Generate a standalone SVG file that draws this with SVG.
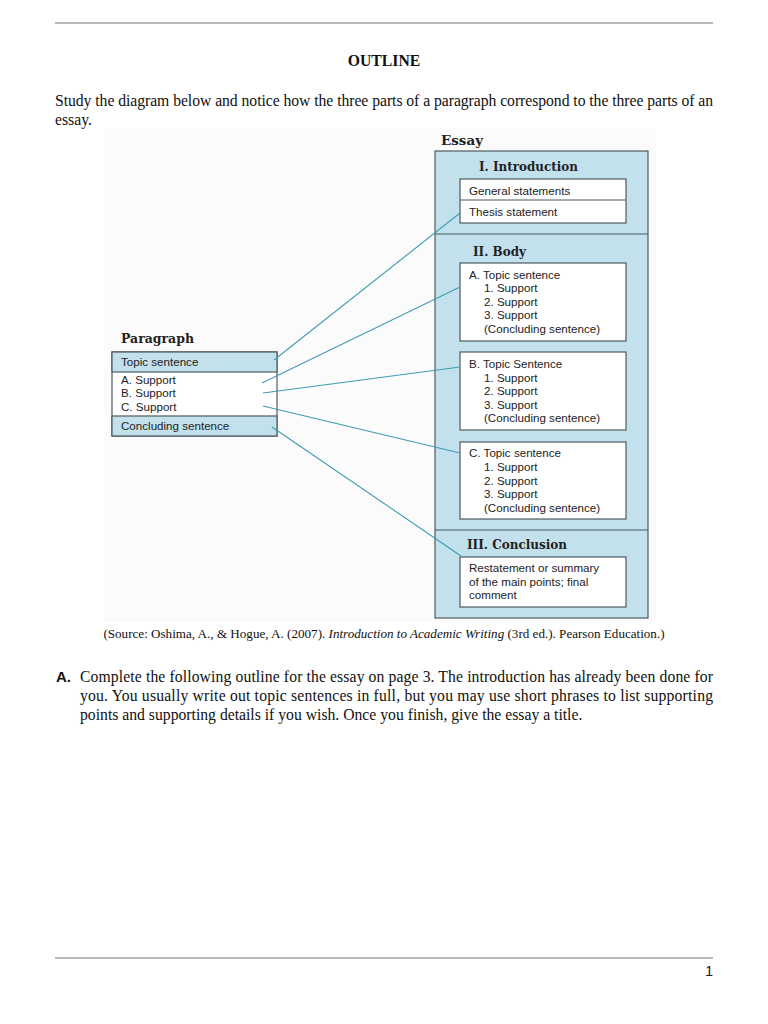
<svg xmlns="http://www.w3.org/2000/svg" width="768" height="1024" viewBox="0 0 768 1024">
<style>
.page{font-family:"Liberation Serif","Times New Roman",serif;font-size:15.7px;fill:#111}
.cap{font-family:"Liberation Serif","Times New Roman",serif;font-size:13.1px;fill:#111}
.head{font-family:"DejaVu Serif",serif;font-weight:bold;fill:#222}
.lbl{font-family:"Liberation Sans",Arial,sans-serif;font-size:11.6px;fill:#222}
.blue{fill:#c2e1ec;stroke:#4d5a60;stroke-width:1.2}
.box{fill:#ffffff;stroke:#4d5a60;stroke-width:1.2}
.div{stroke:#4d5a60;stroke-width:1.1;fill:none}
.conn line{stroke:#3f9cb2;stroke-width:1.1}
.rule{stroke:#a0a0a0;stroke-width:1.6}
</style>
<rect width="768" height="1024" fill="#ffffff"/>
<line class="rule" x1="55" y1="23" x2="713" y2="23"/>
<line class="rule" x1="55" y1="958" x2="713" y2="958"/>
<text class="page" x="384" y="66" text-anchor="middle" font-weight="bold">OUTLINE</text>
<text class="page" x="55" y="106" textLength="658" lengthAdjust="spacing">Study the diagram below and notice how the three parts of a paragraph correspond to the three parts of an</text>
<text class="page" x="55" y="125">essay.</text>

<rect x="104" y="128" width="552" height="494" fill="#fbfbfb"/>

<g id="essay">
<text class="head" x="441" y="145" font-size="13" textLength="42" lengthAdjust="spacingAndGlyphs">Essay</text>
<rect class="blue" x="435" y="151" width="213" height="467"/>
<line class="div" x1="435" y1="234" x2="648" y2="234"/>
<line class="div" x1="435" y1="530" x2="648" y2="530"/>
</g>

<g id="introduction">
<text class="head" x="479" y="171" font-size="12" textLength="99" lengthAdjust="spacingAndGlyphs">I. Introduction</text>
<rect class="box" x="460" y="179" width="166" height="44"/>
<line class="div" x1="460" y1="200" x2="626" y2="200" stroke="#999"/>
<text class="lbl" x="469" y="195">General statements</text>
<text class="lbl" x="469" y="216">Thesis statement</text>
</g>

<g id="body">
<text class="head" x="473" y="256" font-size="12" textLength="53" lengthAdjust="spacingAndGlyphs">II. Body</text>
</g>

<g id="body-a">
<rect class="box" x="460" y="263" width="166" height="78"/>
<text class="lbl" x="469" y="279">A. Topic sentence</text>
<text class="lbl" x="484" y="292">1. Support</text>
<text class="lbl" x="484" y="306">2. Support</text>
<text class="lbl" x="484" y="319">3. Support</text>
<text class="lbl" x="484" y="333">(Concluding sentence)</text>
</g>

<g id="body-b">
<rect class="box" x="460" y="352" width="166" height="78"/>
<text class="lbl" x="469" y="368">B. Topic Sentence</text>
<text class="lbl" x="484" y="382">1. Support</text>
<text class="lbl" x="484" y="395">2. Support</text>
<text class="lbl" x="484" y="409">3. Support</text>
<text class="lbl" x="484" y="422">(Concluding sentence)</text>
</g>

<g id="body-c">
<rect class="box" x="460" y="442" width="166" height="77"/>
<text class="lbl" x="469" y="457">C. Topic sentence</text>
<text class="lbl" x="484" y="471">1. Support</text>
<text class="lbl" x="484" y="485">2. Support</text>
<text class="lbl" x="484" y="498">3. Support</text>
<text class="lbl" x="484" y="512">(Concluding sentence)</text>
</g>

<g id="conclusion">
<text class="head" x="467" y="549" font-size="12" textLength="100" lengthAdjust="spacingAndGlyphs">III. Conclusion</text>
<rect class="box" x="460" y="557" width="166" height="50"/>
<text class="lbl" x="469" y="572">Restatement or summary</text>
<text class="lbl" x="469" y="586">of the main points; final</text>
<text class="lbl" x="469" y="599">comment</text>
</g>

<g id="paragraph">
<text class="head" x="121" y="343" font-size="12" textLength="73" lengthAdjust="spacingAndGlyphs">Paragraph</text>
<rect class="box" x="112" y="352" width="165" height="84"/>
<rect class="blue" x="112" y="352" width="165" height="20"/>
<rect class="blue" x="112" y="416" width="165" height="20"/>
<text class="lbl" x="121" y="366">Topic sentence</text>
<text class="lbl" x="121" y="384">A. Support</text>
<text class="lbl" x="121" y="397">B. Support</text>
<text class="lbl" x="121" y="411">C. Support</text>
<text class="lbl" x="121" y="430">Concluding sentence</text>
</g>

<g id="connectors" class="conn">
<line x1="274" y1="360" x2="460" y2="213"/>
<line x1="262" y1="383" x2="460" y2="287"/>
<line x1="263" y1="393" x2="460" y2="367"/>
<line x1="263" y1="406" x2="460" y2="453"/>
<line x1="272" y1="427" x2="461" y2="556"/>
</g>

<text class="cap" x="384" y="638" text-anchor="middle">(Source: Oshima, A., &amp; Hogue, A. (2007). <tspan font-style="italic">Introduction to Academic Writing</tspan> (3rd ed.). Pearson Education.)</text>

<text x="56" y="682" font-family="Liberation Sans,Arial,sans-serif" font-weight="bold" font-size="15" fill="#111">A.</text>
<text class="page" x="80" y="682" textLength="633" lengthAdjust="spacing">Complete the following outline for the essay on page 3. The introduction has already been done for</text>
<text class="page" x="80" y="701" textLength="633" lengthAdjust="spacing">you. You usually write out topic sentences in full, but you may use short phrases to list supporting</text>
<text class="page" x="80" y="720">points and supporting details if you wish. Once you finish, give the essay a title.</text>

<text x="713" y="976" text-anchor="end" font-family="Liberation Sans,Arial,sans-serif" font-size="14" fill="#111">1</text>
</svg>
